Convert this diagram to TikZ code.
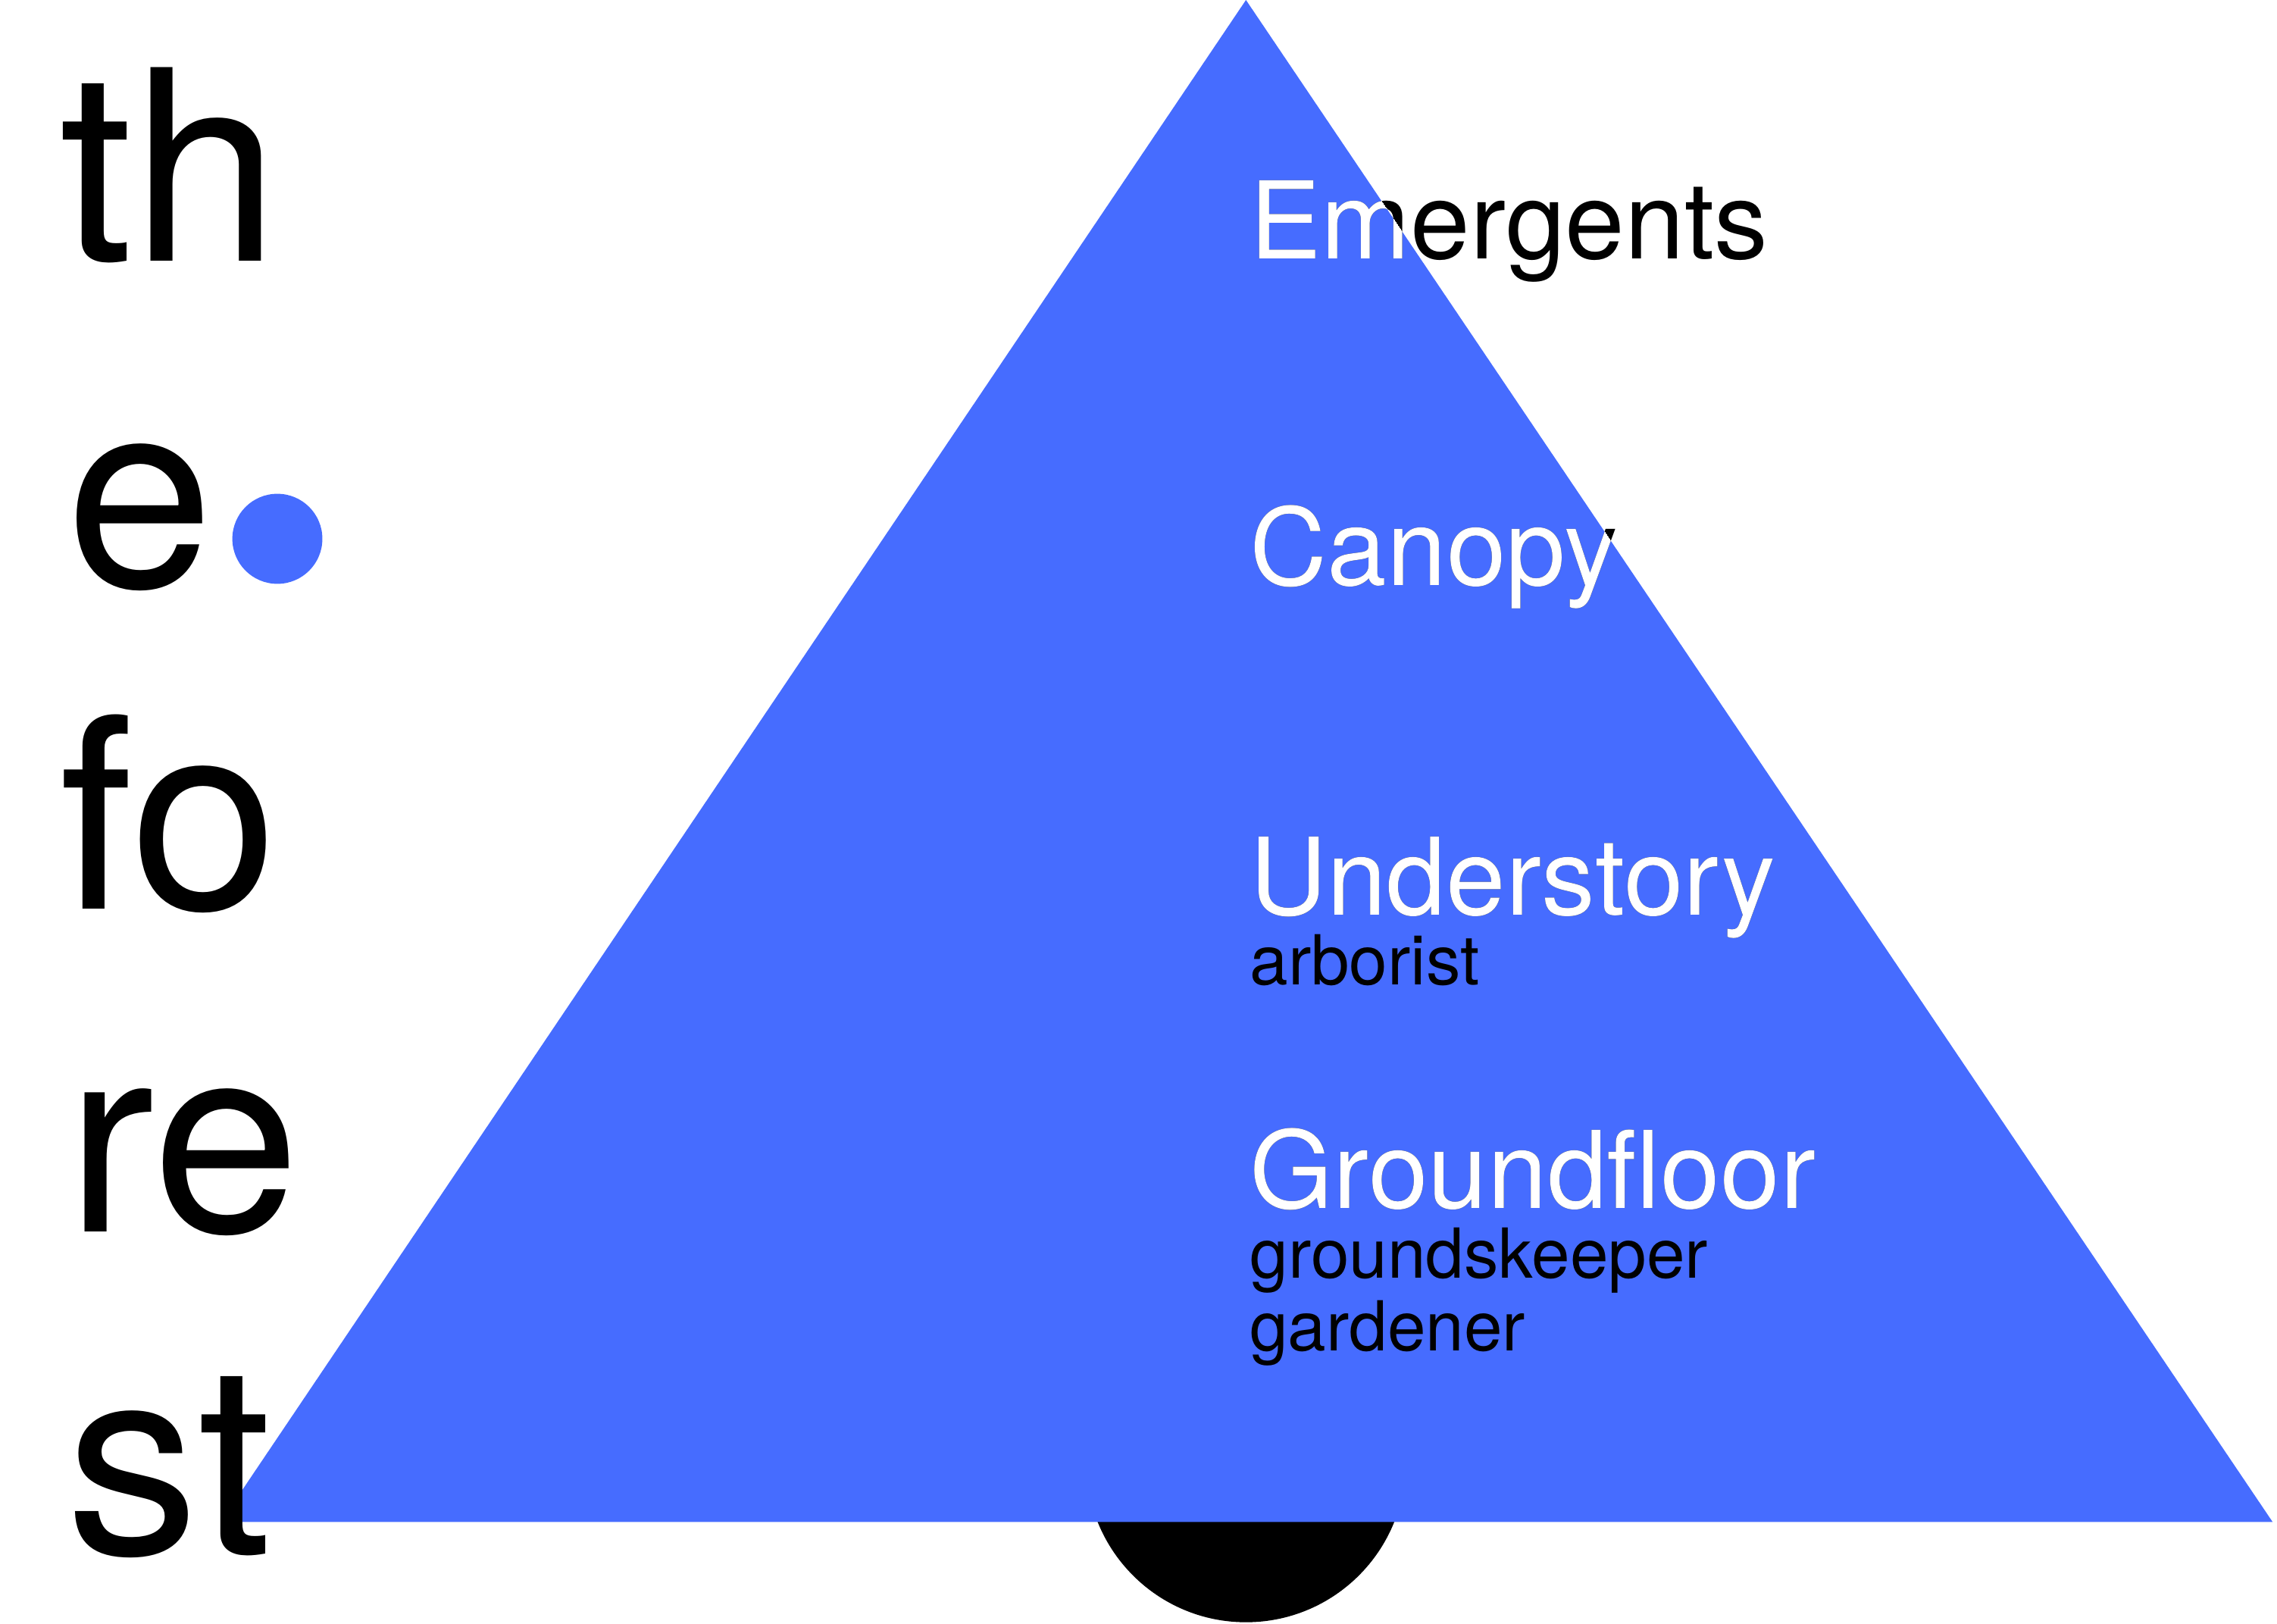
\documentclass[tikz,border=0pt]{standalone}
\usepackage{fontspec}
\setmainfont{TeX Gyre Heros}
\definecolor{fblue}{HTML}{466CFF}
\begin{document}
\begin{tikzpicture}[x=0.01cm,y=-0.01cm,
  big/.style={anchor=base west,inner sep=0,font=\fontsize{52}{52}\selectfont},
  lab/.style={anchor=base west,inner sep=0,font=\fontsize{21}{21}\selectfont},
  sub/.style={anchor=base west,inner sep=0,font=\fontsize{13.5}{13.5}\selectfont}]
\useasboundingbox (0,0) rectangle (1568,1118);
\fill[black] (858,1007) circle (110);
\fill[fblue] (858,0) coordinate (apex) -- (152,1048) coordinate (bl) -- (1565,1048) coordinate (br) -- cycle;
\fill[fblue] (191,371) circle (31);
% labels black then white clipped
\foreach \t/\y/\n in {Emergents/178/em,Canopy/403/ca,Understory/630/un,Groundfloor/832/gr}{
  \node[lab,black] (\n) at (860,\y) {\t};
}
\begin{scope}
\clip (apex) -- (bl) -- (br) -- cycle;
\foreach \t/\y/\n in {Emergents/178/emw,Canopy/403/caw,Understory/630/unw,Groundfloor/832/grw}{
  \node[lab,white] (\n) at (860,\y) {\t};
}
\end{scope}
\node[sub] (ar) at (860,678) {arborist};
\node[sub] (gk) at (860,880) {groundskeeper};
\node[sub] (ga) at (860,930) {gardener};
\node[big] (t1) at (40,180) {th};
\node[big] (t2) at (45,404) {e};
\node[big] (t3) at (40,626) {fo};
\node[big] (t4) at (45,848) {re};
\node[big] (t5) at (45,1070) {st};
\end{tikzpicture}
\end{document}
